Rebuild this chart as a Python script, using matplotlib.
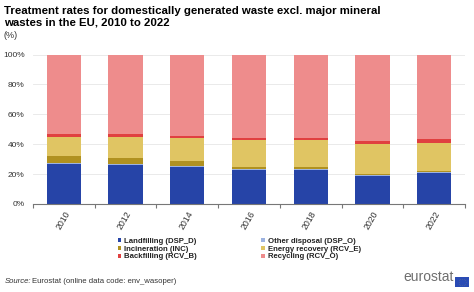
import numpy as np
import matplotlib.pyplot as plt
from matplotlib.patches import Rectangle

plt.rcParams['font.family'] = ['Liberation Sans', 'DejaVu Sans']

# Data (% of treated waste)
years = ['2010', '2012', '2014', '2016', '2018', '2020', '2022']
landfilling = [26.6, 25.9, 25.0, 22.5, 22.5, 18.8, 20.8]
other_disposal = [0.7, 0.6, 0.7, 0.7, 0.7, 0.7, 0.9]
incineration = [5.1, 4.3, 3.1, 1.8, 1.6, 0.8, 0.6]
energy_recovery = [12.7, 14.3, 15.6, 17.9, 18.3, 19.7, 18.5]
backfilling = [1.8, 1.8, 1.1, 1.5, 1.1, 2.4, 2.7]
recycling = [53.1, 53.1, 54.5, 55.6, 55.8, 57.6, 56.5]

series = [
    ('Landfilling (DSP_D)', landfilling, '#2644A7'),
    ('Other disposal (DSP_O)', other_disposal, '#9DB3E0'),
    ('Incineration (INC)', incineration, '#B09120'),
    ('Energy recovery (RCV_E)', energy_recovery, '#E0C563'),
    ('Backfilling (RCV_B)', backfilling, '#E04040'),
    ('Recycling (RCV_O)', recycling, '#EE8C8C'),
]

fig = plt.figure(figsize=(4.74, 2.92), dpi=100)
ax = fig.add_axes([33/474, 1 - 204/292, 432/474, 149.5/292])

x = np.arange(len(years))
bottom = np.zeros(len(years))
handles = []
for name, vals, col in series:
    b = ax.bar(x, vals, bottom=bottom, width=0.555, color=col, label=name)
    handles.append(b)
    bottom += np.array(vals)

ax.set_xlim(-0.5, len(years) - 0.5)
ax.set_ylim(0, 100)
ax.set_yticks(np.arange(0, 101, 20))
ax.set_yticklabels([f'{v}%' for v in range(0, 101, 20)])
ax.yaxis.grid(True, color='#E6E6E6', linewidth=0.6)
ax.set_axisbelow(True)
for s in ['top', 'right', 'left']:
    ax.spines[s].set_visible(False)
ax.spines['bottom'].set_color('#777777')
ax.spines['bottom'].set_linewidth(0.8)

# ticks between the categories, labels under the bars
ax.set_xticks(np.arange(-0.5, len(years), 1.0))
ax.set_xticklabels([])
ax.set_xticks(x, minor=True)
ax.set_xticklabels(years, minor=True, rotation=60, ha='right', va='top',
                   rotation_mode='anchor', fontsize=6.3, color='#333333')
ax.tick_params(axis='x', which='major', length=3, color='#777777')
ax.tick_params(axis='x', which='minor', length=0, pad=4)
ax.tick_params(axis='y', length=0, labelsize=6, colors='#333333', pad=6)

# title
fig.text(0.008, 0.978, 'Treatment rates for domestically generated waste excl. major mineral\n'
         'wastes in the EU, 2010 to 2022', fontsize=8.2, fontweight='bold',
         va='top', ha='left', linespacing=1.1)
fig.text(0.008, 0.895, '(%)', fontsize=6.5, va='top', ha='left', color='#333333')

# legend
leg = fig.legend(handles=[handles[0], handles[2], handles[4], handles[1], handles[3], handles[5]],
                 labels=[series[i][0] for i in [0, 2, 4, 1, 3, 5]],
                 ncol=2, loc='upper left', bbox_to_anchor=(114/474, 1 - 234/292),
                 frameon=False, handlelength=0.45, handleheight=0.45,
                 handletextpad=0.35, columnspacing=8.3, labelspacing=0.1,
                 borderpad=0, prop={'weight': 'bold', 'size': 5.6})
for t in leg.get_texts():
    t.set_color('#222222')

# source
fig.text(5/474, 0.025, 'Source:', fontsize=5.6, style='italic', color='#333333', ha='left', va='bottom')
fig.text(32/474, 0.025, 'Eurostat (online data code: env_wasoper)', fontsize=5.6,
         color='#333333', ha='left', va='bottom')

# eurostat logo
fig.text(454/474, 0.028, 'eurostat', fontsize=10, color='#6E6E6E', ha='right', va='bottom')
flag = fig.add_axes([455/474, 5/292, 14/474, 10/292])
flag.add_patch(Rectangle((0, 0), 1, 1, color='#2A4BB5'))
ang = np.linspace(0, 2 * np.pi, 12, endpoint=False)
flag.scatter(0.5 + 0.25 * np.cos(ang), 0.5 + 0.33 * np.sin(ang), s=0.04, color='#FFDD00',
             marker='o', linewidths=0)
flag.set_xlim(0, 1)
flag.set_ylim(0, 1)
flag.axis('off')

fig.savefig('out.png', dpi=100)
